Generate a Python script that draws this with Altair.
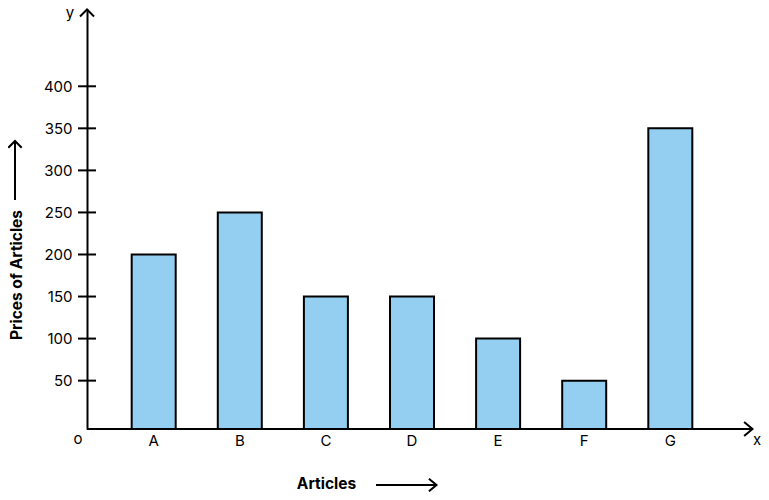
import altair as alt
import pandas as pd

articles = ["A", "B", "C", "D", "E", "F", "G"]
prices = [200, 250, 150, 150, 100, 50, 350]
y_ticks = [50, 100, 150, 200, 250, 300, 350, 400]

Y_MIN = -7.5
Y_MAX = 491.9
FONT = "Inter"
BAR_COLOR = "#94CFF1"

df = pd.DataFrame({"article": articles, "price": prices})
ticks_df = pd.DataFrame({"tick": y_ticks})
one = alt.Data(values=[{"k": 0}])

x_scale = alt.Scale(domain=articles, paddingInner=0.489, paddingOuter=0.519)
y_scale = alt.Scale(domain=[Y_MIN, Y_MAX], nice=False, zero=False)

bars = alt.Chart(df).mark_bar(
    fill=BAR_COLOR, stroke="black", strokeWidth=2
).encode(
    x=alt.X("article:N", scale=x_scale, sort=articles,
            axis=alt.Axis(title=None, domain=False, ticks=False, tickSize=0,
                          labelAngle=0, labelPadding=4, labelFont=FONT,
                          labelFontSize=15, labelColor="black", grid=False)),
    y=alt.Y("price:Q", scale=y_scale,
            axis=alt.Axis(title=None, values=y_ticks, domain=True,
                          domainColor="black", domainWidth=2, ticks=False,
                          tickSize=0, labelPadding=15, labelFont=FONT,
                          labelFontSize=15, labelColor="black", grid=False)),
    y2=alt.datum(Y_MIN),
)

tick_marks = alt.Chart(ticks_df).mark_rule(color="black", strokeWidth=2).encode(
    y=alt.Y("tick:Q", scale=y_scale),
    x=alt.value(-9), x2=alt.value(9),
)

x_axis_line = alt.Chart(one).mark_rule(color="black", strokeWidth=2).encode(
    x=alt.value(0), x2=alt.value(666), y=alt.datum(Y_MIN)
)

right_chev = "M-1.2,-1L0,0L-1.2,1"
up_chev = "M-1,1L0,0L1,1"

x_arrow = alt.Chart(one).mark_point(
    shape=right_chev, size=196, filled=False, stroke="black", strokeWidth=2, opacity=1
).encode(x=alt.value(665.5), y=alt.datum(Y_MIN))

y_arrow = alt.Chart(one).mark_point(
    shape=up_chev, size=196, filled=False, stroke="black", strokeWidth=2, opacity=1
).encode(x=alt.value(0), y=alt.value(0.5))

# axis title arrows
xt_line = alt.Chart(one).mark_rule(color="black", strokeWidth=2).encode(
    x=alt.value(289), x2=alt.value(349.5), y=alt.value(476)
)
xt_head = alt.Chart(one).mark_point(
    shape=right_chev, size=160, filled=False, stroke="black", strokeWidth=2, opacity=1
).encode(x=alt.value(349.5), y=alt.value(476))

yt_line = alt.Chart(one).mark_rule(color="black", strokeWidth=2).encode(
    x=alt.value(-72), y=alt.value(132), y2=alt.value(191)
)
yt_head = alt.Chart(one).mark_point(
    shape=up_chev, size=180, filled=False, stroke="black", strokeWidth=2, opacity=1
).encode(x=alt.value(-72), y=alt.value(132))

x_title = alt.Chart(one).mark_text(
    text="Articles", font=FONT, fontSize=15.5, fontWeight="bold", color="black",
    align="center", baseline="middle"
).encode(x=alt.value(239.5), y=alt.value(475))

y_title = alt.Chart(one).mark_text(
    text="Prices of Articles", font=FONT, fontSize=15.5, fontWeight="bold", color="black",
    align="center", baseline="middle", angle=270
).encode(x=alt.value(-70.5), y=alt.value(266))

o_label = alt.Chart(one).mark_text(
    text="o", font=FONT, fontSize=15, color="black", align="center", baseline="middle"
).encode(x=alt.value(-9), y=alt.value(430))

x_label = alt.Chart(one).mark_text(
    text="x", font=FONT, fontSize=15, color="black", align="center", baseline="middle"
).encode(x=alt.value(670), y=alt.value(431))

y_label = alt.Chart(one).mark_text(
    text="y", font=FONT, fontSize=15, color="black", align="center", baseline="alphabetic"
).encode(x=alt.value(-17), y=alt.value(8.5))

chart = alt.layer(
    bars, tick_marks, x_axis_line, x_arrow, y_arrow,
    xt_line, xt_head, yt_line, yt_head, x_title, y_title,
    o_label, x_label, y_label
).properties(
    width=650, height=420,
    autosize=alt.AutoSizeParams(type="none"),
    padding={"left": 79, "top": 1, "right": 24, "bottom": 63},
    background="white",
).configure_view(stroke=None)

chart.save("out.html", embed_options={"renderer": "svg", "actions": False})
